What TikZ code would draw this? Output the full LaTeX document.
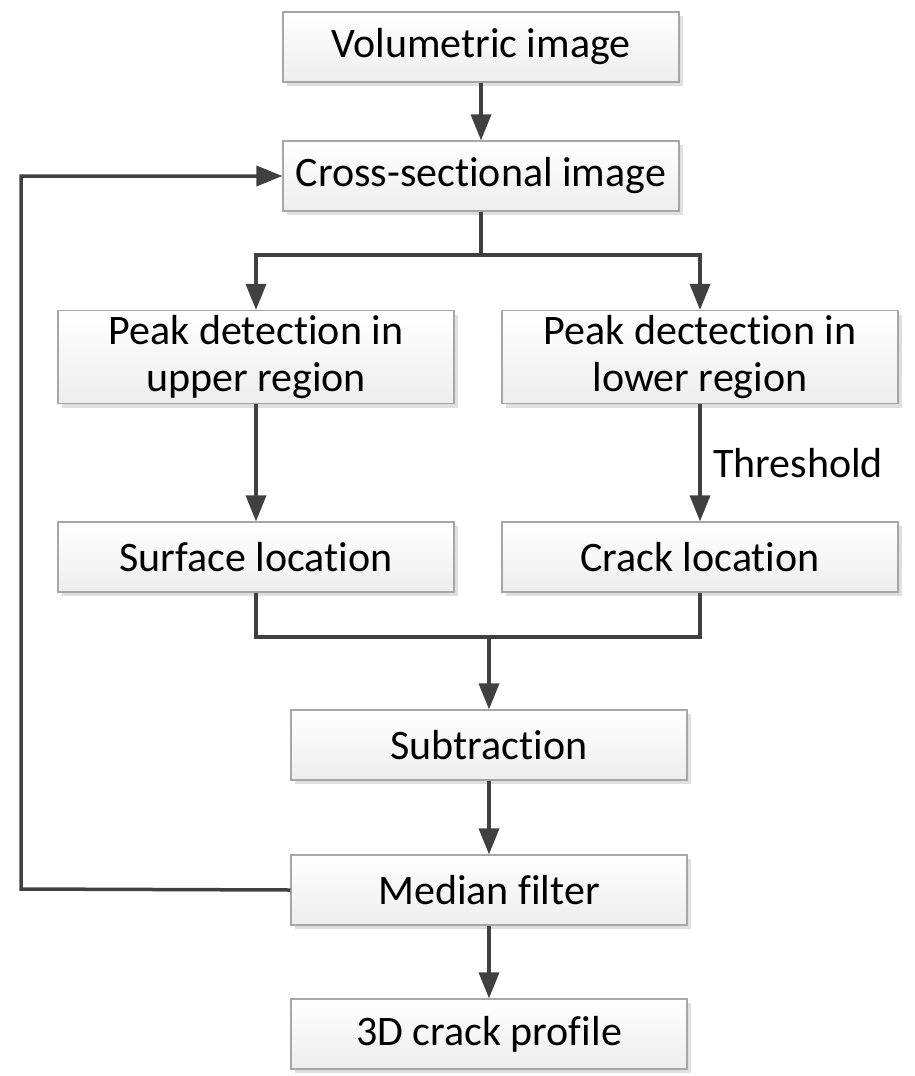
\documentclass[tikz,border=0pt]{standalone}
\usepackage{fontspec}
\setmainfont{Carlito}[Ligatures={NoCommon}]
\usetikzlibrary{arrows.meta,shadows}
\tikzset{
    box/.style={rectangle, draw=gray!70, line width=1.2pt, top color=white, bottom color=gray!14,
        drop shadow={shadow xshift=4pt, shadow yshift=-4pt, fill=gray!25, opacity=1},
        minimum width=396pt, minimum height=70pt, align=center, inner sep=0pt},
    tallbox/.style={box, minimum height=93pt},
    flow/.style={draw=black!75, line width=3.5pt, -{Triangle[length=26pt,width=20pt]}},
    link/.style={draw=black!75, line width=3.5pt}
}
\begin{document}
\begin{tikzpicture}[x=1pt, y=-1pt, font=\fontsize{42}{47}\selectfont]
\useasboundingbox (0,0) rectangle (914,1076);
\node [box] (vol) at (481,47) {Volumetric image};
\node [box] (cross) at (481,176) {Cross-sectional image};
\node [tallbox] (upper) at (256,357) {Peak detection in\\upper region};
\node [tallbox] (lower) at (700,357) {Peak dectection in\\lower region};
\node [box] (surf) at (256,557) {Surface location};
\node [box] (crack) at (700,557) {Crack location};
\node [box] (sub) at (489,745) {Subtraction};
\node [box] (med) at (489,890) {Median filter};
\node [box] (prof) at (489,1034) {3D crack profile};
\coordinate (split) at (481,255);
\coordinate (merge) at (489,637);
\coordinate (loop) at (21,889);
% arrows
\draw [flow] (vol) -- (cross);
\draw [link] (cross) -- (split);
\draw [flow] (split) -| (upper);
\draw [flow] (split) -| (lower);
\draw [flow] (upper) -- (surf);
\draw [flow] (lower) -- node [right, xshift=8pt] {Threshold} (crack);
\draw [link] (surf) |- (merge);
\draw [link] (crack) |- (merge);
\draw [flow] (merge) -- (sub);
\draw [flow] (sub) -- (med);
\draw [flow] (med) -- (prof);
\draw [flow] (med.west) -- (loop) |- (cross.west);
\end{tikzpicture}
\end{document}
